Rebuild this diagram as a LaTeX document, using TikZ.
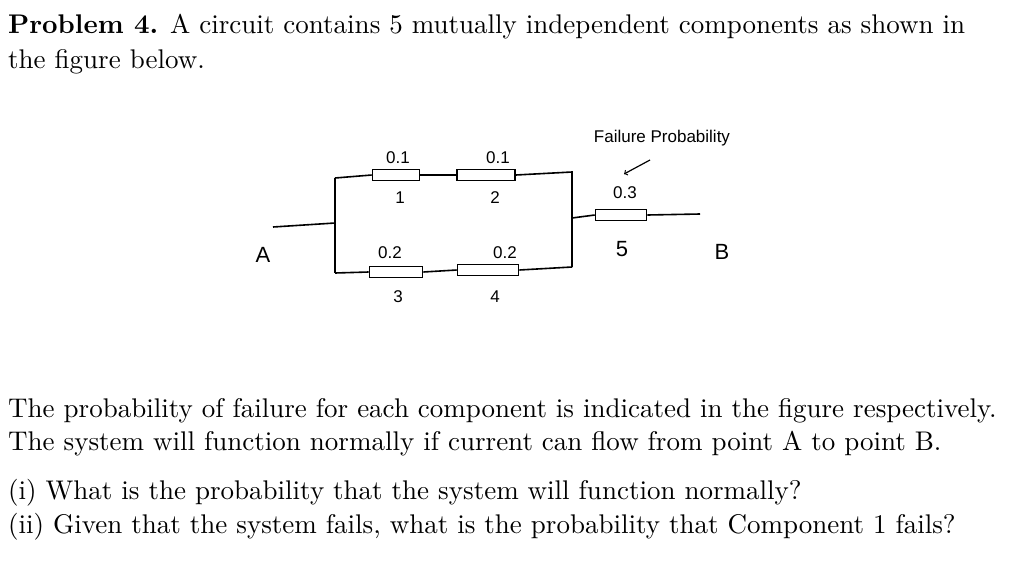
\documentclass[tikz,border=0pt]{standalone}
\usepackage{fontspec}
\usepackage{graphicx}
\newfontfamily\hand{Liberation Sans}
\begin{document}
\begin{tikzpicture}[x=1pt,y=-1pt,
  res/.style={draw,line width=1.6pt,minimum width=#1,minimum height=11pt,inner sep=0pt},
  w/.style={line width=1.6pt},
  lab/.style={font=\hand\fontsize{17}{17}\selectfont},
  txt/.style={anchor=base west,inner sep=0pt}]
\useasboundingbox (0,0) rectangle (1024,568);
\newcommand\bigtxt[1]{\scalebox{2.7}{\fontsize{10}{12}\selectfont #1}}
\node[txt] (t1) at (8,33) {\bigtxt{\textbf{Problem 4.} A circuit contains 5 mutually independent components as shown in}};
\node[txt] (t2) at (8,68) {\bigtxt{the figure below.}};
\node[txt] (t3) at (8,417) {\bigtxt{The probability of failure for each component is indicated in the figure respectively.}};
\node[txt] (t4) at (8,450) {\bigtxt{The system will function normally if current can flow from point A to point B.}};
\node[txt] (t5) at (8,499) {\bigtxt{(i) What is the probability that the system will function normally?}};
\node[txt] (t6) at (8,533) {\bigtxt{(ii) Given that the system fails, what is the probability that Component 1 fails?}};
% resistors
\node[res=47pt] (r1) at (396,175) {};
\node[res=58pt] (r2) at (486,175) {};
\node[res=53pt] (r3) at (396,272) {};
\node[res=61pt] (r4) at (488,270) {};
\node[res=51pt] (r5) at (621,215) {};
\coordinate (a0) at (273,227);
\coordinate (aj) at (335,223);
\coordinate (tl) at (335,178);
\coordinate (bl) at (335,273);
\coordinate (tr) at (572,172);
\coordinate (br) at (572,267);
\coordinate (rj) at (572,218);
\coordinate (bend) at (700,214);
\draw[w] (a0) -- (aj);
\draw[w] (tl) -- (bl);
\draw[w] (tl) -- (r1.west);
\draw[w] (r1.east) -- (r2.west);
\draw[w] (r2.east) -- (tr) -- (br);
\draw[w] (bl) -- (r3.west);
\draw[w] (r3.east) -- (r4.west);
\draw[w] (r4.east) -- (br);
\draw[w] (rj) -- (r5.west);
\draw[w] (r5.east) -- (bend);
% labels
\node[lab] (l1) at (398,158) {0.1};
\node[lab] (l2) at (498,158) {0.1};
\node[lab] (n1) at (400,198) {1};
\node[lab] (n2) at (495,198) {2};
\node[lab] (l3) at (390,253) {0.2};
\node[lab] (l4) at (505,253) {0.2};
\node[lab] (n3) at (398,297) {3};
\node[lab] (n4) at (495,297) {4};
\node[lab] (l5) at (625,193) {0.3};
\node[lab,font=\hand\fontsize{22}{22}\selectfont] (n5) at (622,249) {5};
\node[lab,font=\hand\fontsize{22}{22}\selectfont] (B) at (722,252) {B};
\node[lab,font=\hand\fontsize{22}{22}\selectfont] (A) at (263,255) {A};
\node[lab] (fp) at (662,138) {Failure Probability};
\coordinate (fa) at (650,160);
\coordinate (fb) at (624,174);
\draw[w,line width=1.2pt,->] (fa) -- (fb);
\end{tikzpicture}
\end{document}
